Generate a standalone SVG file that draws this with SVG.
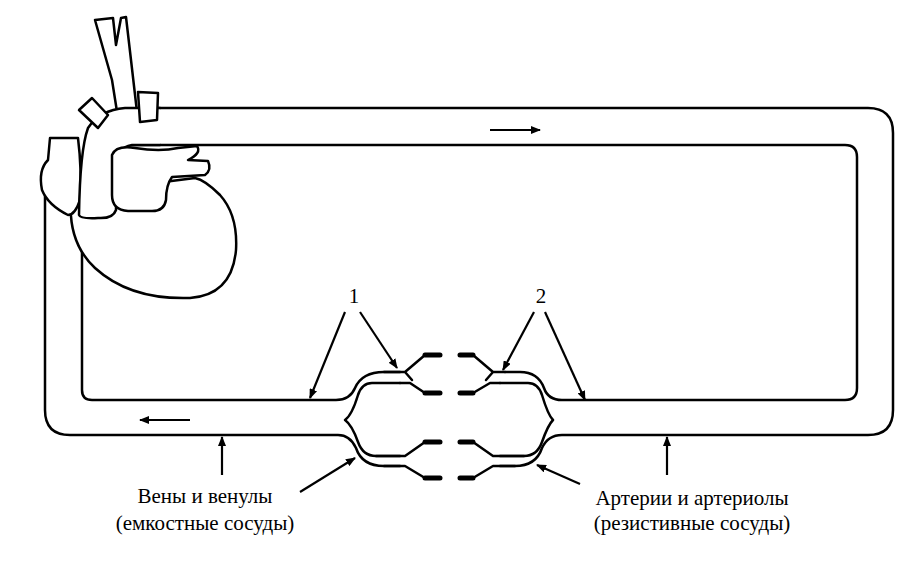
<svg xmlns="http://www.w3.org/2000/svg" width="910" height="576" viewBox="0 0 910 576">
<defs>
<marker id="ah" markerWidth="10" markerHeight="8" refX="9" refY="4" orient="auto" markerUnits="userSpaceOnUse"><path d="M0,0 L10,4 L0,8 Z" fill="#000"/></marker>
<style>
.v{fill:none;stroke:#000;stroke-width:2.5;stroke-linejoin:round;stroke-linecap:round}
.h{fill:#fff;stroke:#000;stroke-width:2.5;stroke-linejoin:round}
.c{fill:none;stroke:#000;stroke-width:5;stroke-linecap:round}
.a{fill:none;stroke:#000;stroke-width:2.2;marker-end:url(#ah)}
text{font-family:"Liberation Serif",serif;font-size:21px;fill:#000;text-anchor:middle}
</style>
</defs>
<rect width="910" height="576" fill="#fff"/>
<g id="vessels">
<path class="v" d="M158,108 H868 Q893,108 893,133 V410 Q893,435 868,435 H562 Q548,435 542,448 Q536,466 515,466 H500"/>
<path class="v" d="M132,145 H845 Q857,145 857,157 V388 Q857,400 845,400 H562 Q548,400 544,388 Q538,372 520,372 H505"/>
<path class="v" d="M45,180 V410 Q45,435 70,435 H338 Q350,435 356,448 Q362,466 384,466 H400"/>
<path class="v" d="M82,230 V390 Q82,400 92,400 H336 Q350,400 355,388 Q362,372 384,372 H400"/>
<path class="v" d="M400,383 H372 Q362,383 358,395 Q352,415 345,420 Q352,425 358,442 Q363,456 376,456 H400"/>
<path class="v" d="M500,383 H528 Q538,383 542,395 Q548,415 553,420 Q548,425 542,442 Q537,456 524,456 H500"/>
</g>
<g id="capillaries">
<path class="v" d="M384,372 L405,372 L425,355 H440 M400,383 L410,383 L425,393 H440 M405,372 L412,380"/>
<path class="c" d="M425,355 H440 M425,393 H440 M460,355 H473 M460,393 H473 M425,442 H440 M425,478 H440 M460,442 H473 M460,478 H473"/>
<path class="v" d="M473,355 L493,372 H505 M473,393 L490,383 H500 M493,372 L486,380"/>
<path class="v" d="M384,466 H405 L425,478 M376,456 H405 L425,442"/>
<path class="v" d="M524,456 H493 L473,442 M515,466 H493 L473,478"/>
</g>
<g id="heart">
<path class="h" d="M72,190 Q65,240 95,268 Q130,300 190,298 Q232,295 236,250 Q238,215 220,195 Q205,180 195,178 L140,185 Z"/>
<path class="h" d="M50,138 H78 Q82,170 80,200 Q75,215 68,215 Q48,205 42,190 Q38,170 48,160 Z"/>
<path class="h" d="M95,20 L113,18 L116,45 L121,18 L126,17 L131,60 L137,112 L118,118 L112,80 Z"/>
<path d="M79,215 Q80,150 88,128 Q100,110 125,108 L160,108 L160,145 L132,145 Q116,148 116,165 L116,210 Q113,219 98,218 Q80,219 79,215 Z" fill="#fff" stroke="none"/>
<path class="v" d="M160,108 L125,108 Q100,110 88,128 Q80,150 79,215 Q80,219 98,218 Q113,219 116,210 L116,165 Q116,148 132,145 L160,145"/>
<path class="h" d="M79,110 L92,98 L108,115 L98,128 Z"/>
<path class="h" d="M138,92 L158,93 L157,120 L140,122 Z"/>
<path class="h" d="M112,155 Q116,145 135,148 Q160,152 178,148 L197,146 Q202,153 188,160 L208,161 Q212,170 205,175 L172,177 Q166,185 166,200 Q164,212 150,211 L128,211 Q112,210 112,195 Z"/>
</g>
<g id="connectors">
<path class="a" d="M490,130 H540"/>
<path class="a" d="M190,420 H140"/>
<path class="a" d="M345,312 L310,398"/>
<path class="a" d="M360,312 L397,368"/>
<path class="a" d="M534,312 L503,370"/>
<path class="a" d="M545,312 L585,400"/>
<path class="a" d="M222,475 V437"/>
<path class="a" d="M300,492 L355,458"/>
<path class="a" d="M580,484 L537,465"/>
<path class="a" d="M667,475 V437"/>
</g>
<g id="labels">
<text x="354" y="303">1</text>
<text x="541" y="303">2</text>
<text x="205" y="503">Вены и венулы</text>
<text x="205" y="530">(емкостные сосуды)</text>
<text x="692" y="505">Артерии и артериолы</text>
<text x="692" y="530">(резистивные сосуды)</text>
</g>
</svg>
